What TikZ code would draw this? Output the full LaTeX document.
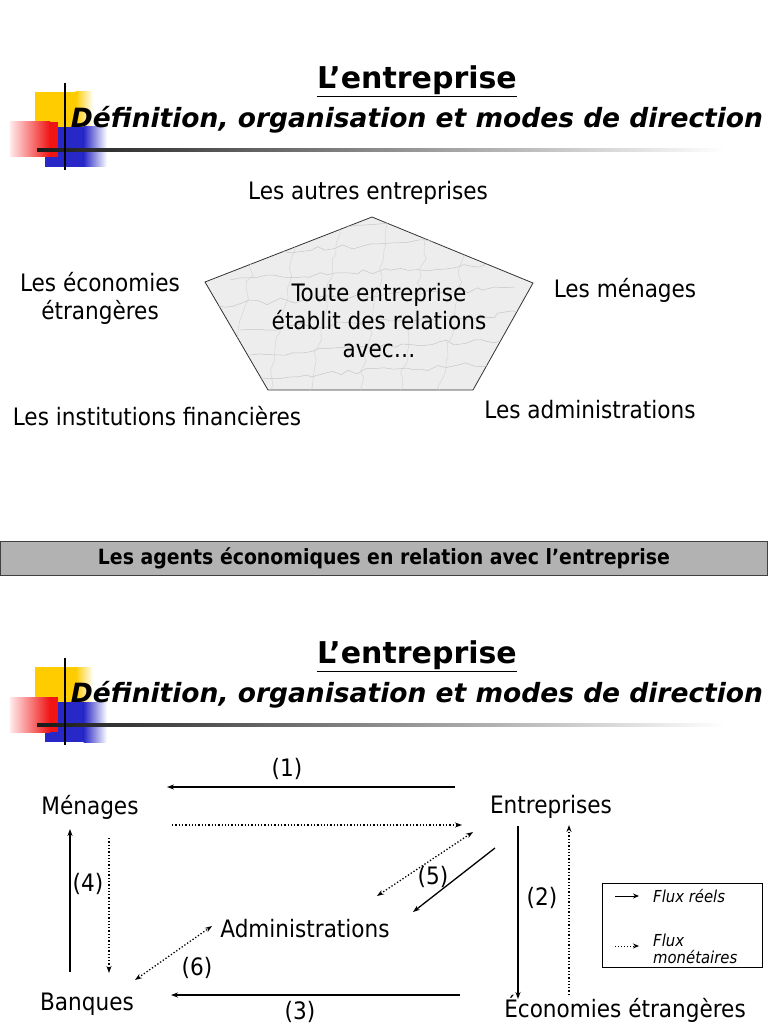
\documentclass[tikz,border=0pt]{standalone}
\usepackage{fontspec}
\setmainfont{DejaVu Sans Condensed}
\newfontfamily\headfont{DejaVu Sans}
\usetikzlibrary{arrows.meta,decorations.pathmorphing}
\definecolor{logoyellow}{RGB}{255,204,0}
\definecolor{logored}{RGB}{240,20,20}
\definecolor{logoblue}{RGB}{40,40,200}
\definecolor{bannergray}{RGB}{178,178,178}
\tikzset{
  lbl/.style={font=\fontsize{24}{28}\selectfont, inner sep=0pt, align=center},
  solidarr/.style={line width=1.3pt, -{Stealth[length=7pt,width=5pt]}},
  dotarr/.style={line width=1.3pt, dotted, -{Stealth[length=7pt,width=5pt]}},
  dotboth/.style={line width=1.3pt, dotted, {Stealth[length=7pt,width=5pt]}-{Stealth[length=7pt,width=5pt]}},
  legtxt/.style={font=\fontsize{16.5}{17}\selectfont\itshape, inner sep=0pt, align=left, anchor=west},
}
\newcommand\slideheader{%
  % logo
  \fill[logoyellow] (35,92) rectangle (76,150);
  \shade[left color=logoyellow, right color=white] (75.5,92) rectangle (93,150);
  \fill[logoblue] (45,127) rectangle (84,167);
  \shade[left color=logoblue, right color=white] (83.5,127) rectangle (107,167);
  \shade[left color=red!8, right color=logored] (10,122) rectangle (50,157);
  \fill[logored] (49.5,122) rectangle (58,157);
  \shade[left color=black!90, right color=white] (37,148.6) rectangle (725,151.4);
  \draw[line width=2pt] (65,83) -- (65,170);
  \node[inner sep=0pt] (title) at (417,81) {\headfont\fontsize{30}{33}\selectfont\bfseries\underline{L’entreprise}};
  \node[inner sep=0pt] (subtitle) at (417,120) {\headfont\fontsize{26.5}{30}\selectfont\bfseries\itshape Définition, organisation et modes de direction};
}
\begin{document}
\begin{tikzpicture}[x=1pt,y=-1pt]
\useasboundingbox[fill=white] (0,0) rectangle (768,1024);

% ---------- top slide ----------
\begin{scope}[name prefix=t-]
\slideheader
\path[fill=gray!14, draw=black!80, line width=0.8pt] (372,217) coordinate (p1) -- (533,283) -- (473,390) -- (268,390) -- (205,282) -- cycle;
\begin{scope}
\clip (372,217) -- (533,283) -- (473,390) -- (268,390) -- (205,282) -- cycle;
\foreach \yy/\xs in {230/250,255/210,280/230,305/215,330/240,355/250,378/260}{
  \draw[gray!45, line width=0.5pt, decorate, decoration={random steps, segment length=9pt, amplitude=3pt}] (\xs,\yy) -- ++(300,-18);
}
\foreach \xx in {260,300,340,390,430,470}{
  \draw[gray!35, line width=0.4pt, decorate, decoration={random steps, segment length=8pt, amplitude=3pt}] (\xx,220) -- ++(-30,170);
}
\end{scope}
\node[lbl] (center) at (379,321) {Toute entreprise\\établit des relations\\avec…};
\node[lbl] (autres) at (368,193) {Les autres entreprises};
\node[lbl] (etr) at (100,298) {Les économies\\étrangères};
\node[lbl] (menages) at (625,290) {Les ménages};
\node[lbl] (inst) at (157,416) {Les institutions financières};
\node[lbl] (admin) at (590,410) {Les administrations};
\end{scope}

% ---------- banner ----------
\node[draw=black!75, line width=1pt, fill=bannergray, minimum width=767pt, minimum height=34pt, inner sep=0pt,
      font=\fontsize{21}{24}\selectfont\bfseries] (banner) at (384,558) {Les agents économiques en relation avec l’entreprise};

% ---------- bottom slide ----------
\begin{scope}[shift={(0,575)}, name prefix=b-]
\slideheader
\end{scope}

\node[lbl] (men) at (90,807) {Ménages};
\node[lbl] (ent) at (551,807) {Entreprises};
\node[lbl] (adm) at (305,929) {Administrations};
\node[lbl] (ban) at (87,1004) {Banques};
\node[lbl] (eco) at (625,1009) {Économies étrangères};

\node[lbl] (l1) at (287,769) {(1)};
\node[lbl] (l2) at (542,898) {(2)};
\node[lbl] (l3) at (300,1012) {(3)};
\node[lbl] (l4) at (88,884) {(4)};
\node[lbl] (l5) at (433,877) {(5)};
\node[lbl] (l6) at (197,968) {(6)};

% (1)
\coordinate (a1s) at (455,787); \coordinate (a1e) at (167,787);
\draw[solidarr] (a1s) -- (a1e);
\coordinate (d1s) at (172,825); \coordinate (d1e) at (462,825);
\draw[dotarr] (d1s) -- (d1e);
% (2)
\coordinate (a2s) at (518,826); \coordinate (a2e) at (518,999);
\draw[solidarr] (a2s) -- (a2e);
\coordinate (d2s) at (569,995); \coordinate (d2e) at (569,825);
\draw[dotarr] (d2s) -- (d2e);
% (3)
\coordinate (a3s) at (460,995); \coordinate (a3e) at (171,995);
\draw[solidarr] (a3s) -- (a3e);
% (4)
\coordinate (a4s) at (70,972); \coordinate (a4e) at (70,829);
\draw[solidarr] (a4s) -- (a4e);
\coordinate (d4s) at (109,838); \coordinate (d4e) at (109,973);
\draw[dotarr] (d4s) -- (d4e);
% (5)
\coordinate (d5s) at (377,896); \coordinate (d5e) at (473,832);
\draw[dotboth] (d5s) -- (d5e);
\coordinate (a5s) at (495,848); \coordinate (a5e) at (413,912);
\draw[solidarr] (a5s) -- (a5e);
% (6)
\coordinate (d6s) at (135,980); \coordinate (d6e) at (212,926);
\draw[dotboth] (d6s) -- (d6e);

% legend
\node[draw, line width=0.8pt, minimum width=160pt, minimum height=84pt, inner sep=0pt] (leg) at (682,925) {};
\coordinate (g1s) at (615,896); \coordinate (g1e) at (639,896);
\draw[line width=1pt, -{Stealth[length=6pt,width=5pt]}] (g1s) -- (g1e);
\node[legtxt] (g1t) at (653,896) {Flux réels};
\coordinate (g2s) at (615,946); \coordinate (g2e) at (639,946);
\draw[line width=1pt, dotted, -{Stealth[length=6pt,width=5pt]}] (g2s) -- (g2e);
\node[legtxt] (g2t) at (653,949) {Flux\\monétaires};
\end{tikzpicture}
\end{document}
